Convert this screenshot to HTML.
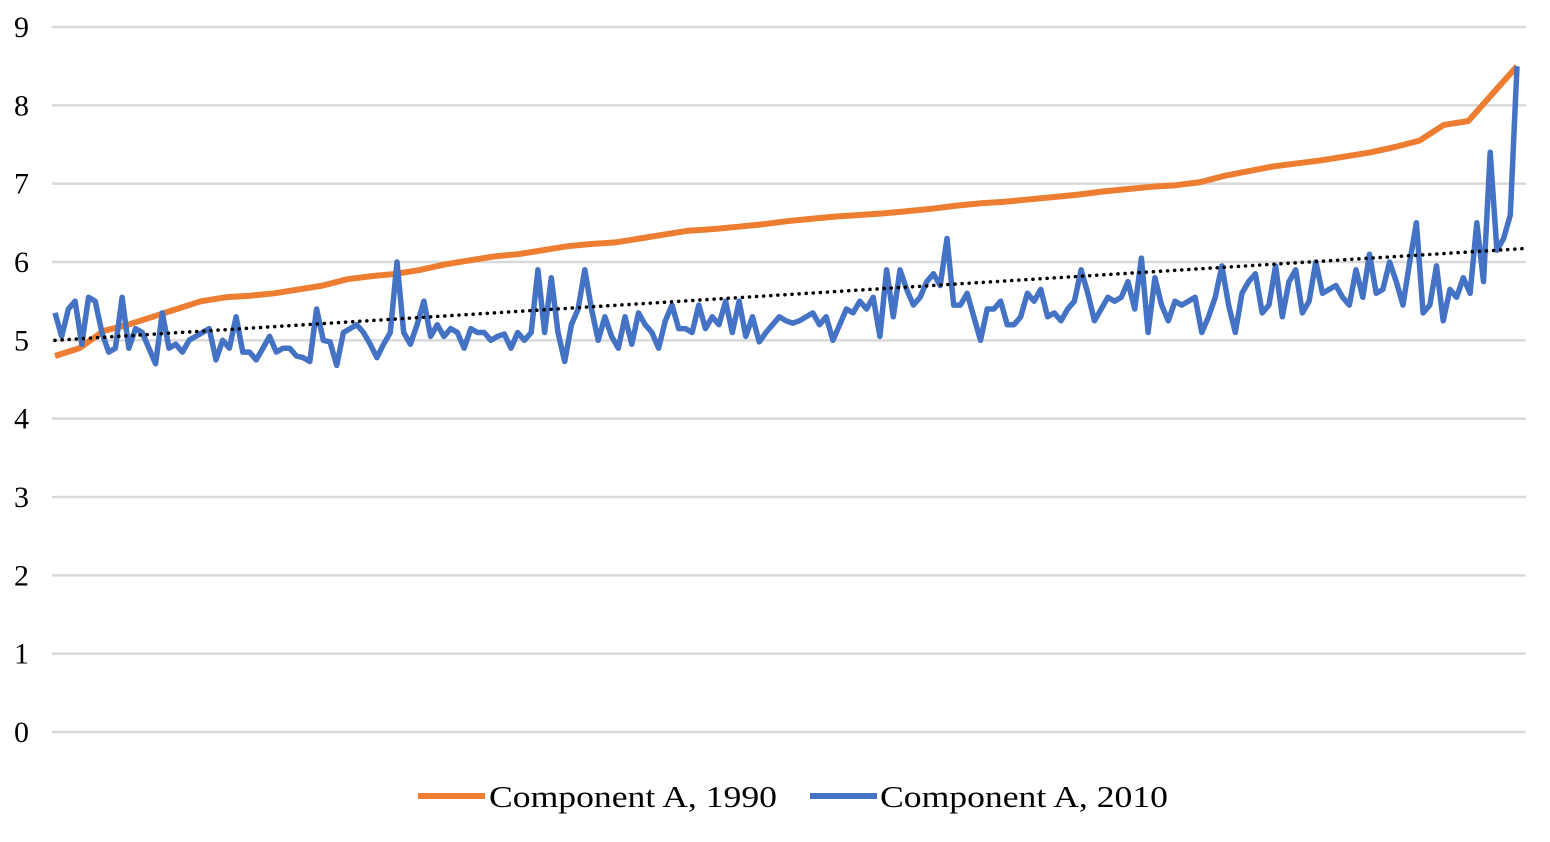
<!DOCTYPE html>
<html><head><meta charset="utf-8"><style>
html,body{margin:0;padding:0;background:#fff;}
svg{display:block;font-family:"Liberation Serif",serif;}
</style></head><body>
<svg id="chart" width="1550" height="842" viewBox="0 0 1550 842" xmlns="http://www.w3.org/2000/svg">
<g id="grid"></g>
<g id="yaxis"></g>
<g id="series"></g>
<g id="legend">
  <line x1="418" y1="796" x2="485" y2="796" stroke="#ED7D31" stroke-width="6"/>
  <text x="489" y="807" font-size="31" textLength="288" lengthAdjust="spacingAndGlyphs" fill="#000">Component A, 1990</text>
  <line x1="810" y1="796" x2="877" y2="796" stroke="#4472C4" stroke-width="6"/>
  <text x="880" y="807" font-size="31" textLength="288" lengthAdjust="spacingAndGlyphs" fill="#000">Component A, 2010</text>
</g>
</svg>
<script>
const yTicks = [0,1,2,3,4,5,6,7,8,9];
const series1990 = [4.8,4.9,5.12,5.2,5.3,5.4,5.5,5.55,5.57,5.6,5.65,5.7,5.78,5.82,5.85,5.9,5.97,6.02,6.07,6.1,6.15,6.2,6.23,6.25,6.3,6.35,6.4,6.42,6.45,6.48,6.52,6.55,6.58,6.6,6.62,6.65,6.68,6.72,6.75,6.77,6.8,6.83,6.86,6.9,6.93,6.96,6.98,7.02,7.1,7.16,7.22,7.26,7.3,7.35,7.4,7.47,7.55,7.75,7.8,8.15,8.5];
const series2010 = [5.35,5.05,5.4,5.5,4.95,5.55,5.5,5.1,4.85,4.9,5.55,4.9,5.15,5.1,4.9,4.7,5.35,4.9,4.95,4.85,5.0,5.05,5.1,5.15,4.75,5.0,4.9,5.3,4.85,4.85,4.75,4.9,5.05,4.85,4.9,4.9,4.8,4.78,4.73,5.4,5.0,4.98,4.68,5.1,5.15,5.2,5.1,4.95,4.78,4.95,5.1,6.0,5.1,4.95,5.2,5.5,5.05,5.2,5.05,5.15,5.1,4.9,5.15,5.1,5.1,5.0,5.05,5.08,4.9,5.1,5.0,5.1,5.9,5.1,5.8,5.1,4.73,5.2,5.4,5.9,5.4,5.0,5.3,5.05,4.9,5.3,4.95,5.35,5.2,5.1,4.9,5.25,5.45,5.15,5.15,5.1,5.45,5.15,5.3,5.2,5.5,5.1,5.5,5.05,5.3,4.98,5.1,5.2,5.3,5.25,5.22,5.25,5.3,5.35,5.2,5.3,5.0,5.2,5.4,5.35,5.5,5.4,5.55,5.05,5.9,5.3,5.9,5.65,5.45,5.55,5.75,5.85,5.7,6.3,5.45,5.45,5.6,5.3,5.0,5.4,5.4,5.5,5.2,5.2,5.3,5.6,5.5,5.65,5.3,5.35,5.25,5.4,5.5,5.9,5.6,5.25,5.4,5.55,5.5,5.55,5.75,5.4,6.05,5.1,5.8,5.45,5.25,5.5,5.45,5.5,5.55,5.1,5.3,5.55,5.95,5.45,5.1,5.6,5.75,5.85,5.35,5.45,5.95,5.3,5.75,5.9,5.35,5.5,6.0,5.6,5.65,5.7,5.55,5.45,5.9,5.55,6.1,5.6,5.65,6.0,5.75,5.45,6.0,6.5,5.35,5.45,5.95,5.25,5.65,5.55,5.8,5.6,6.5,5.75,7.4,6.15,6.3,6.6,8.5];
const trend2010 = [5.0, 6.17];

const NS='http://www.w3.org/2000/svg';
const X0=55, X1=1517, GX1=1526, Y0=732, YTOP=27, YMAX=9;
function yScale(v){return Y0-(v/YMAX)*(Y0-YTOP);}
function xScale(i,n){return X0+(X1-X0)*i/(n-1);}
const grid=document.getElementById('grid'), yaxis=document.getElementById('yaxis'), ser=document.getElementById('series');
yTicks.forEach(t=>{
  const l=document.createElementNS(NS,'line');
  l.setAttribute('x1',52);l.setAttribute('x2',GX1);
  l.setAttribute('y1',yScale(t));l.setAttribute('y2',yScale(t));
  l.setAttribute('stroke','#d9d9d9');l.setAttribute('stroke-width','2.5');
  
  
  grid.appendChild(l);
  const tx=document.createElementNS(NS,'text');
  tx.setAttribute('x',29);tx.setAttribute('y',yScale(t)+10);
  tx.setAttribute('text-anchor','end');tx.setAttribute('font-size','30');
  tx.textContent=t;
  
  
  yaxis.appendChild(tx);
});
function pathFor(arr){return arr.map((v,i)=>(i?'L':'M')+xScale(i,arr.length).toFixed(1)+','+yScale(v).toFixed(1)).join(' ');}
const p1=document.createElementNS(NS,'path');
p1.setAttribute('d',pathFor(series1990));p1.setAttribute('fill','none');
p1.setAttribute('stroke','#ED7D31');p1.setAttribute('stroke-width','6');p1.setAttribute('stroke-linejoin','round');


ser.appendChild(p1);
const p2=document.createElementNS(NS,'path');
p2.setAttribute('d',pathFor(series2010));p2.setAttribute('fill','none');
p2.setAttribute('stroke','#4472C4');p2.setAttribute('stroke-width','5.5');p2.setAttribute('stroke-linejoin','round');


ser.appendChild(p2);
const tl=document.createElementNS(NS,'line');
tl.setAttribute('x1',X0);tl.setAttribute('y1',yScale(trend2010[0]));
tl.setAttribute('x2',X1+5);tl.setAttribute('y2',yScale(trend2010[1]));
tl.setAttribute('stroke','#000');tl.setAttribute('stroke-width','3.5');
tl.setAttribute('stroke-dasharray','0.1 7');tl.setAttribute('stroke-linecap','round');


ser.appendChild(tl);
</script>
</body></html>
